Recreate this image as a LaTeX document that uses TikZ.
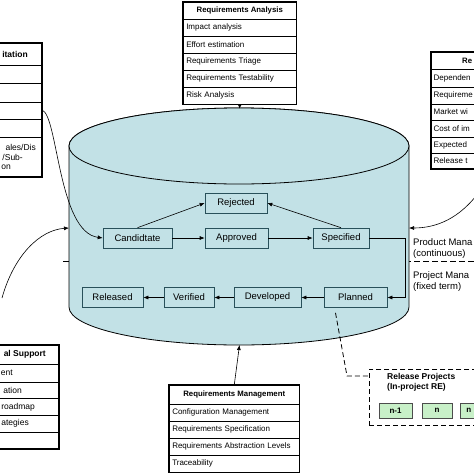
\documentclass[tikz,border=0pt]{standalone}
\usepackage{fontspec}
\setmainfont{Liberation Sans}
\usetikzlibrary{arrows.meta}
\definecolor{cylfill}{RGB}{194,225,230}
\definecolor{nodeedge}{RGB}{40,80,90}
\definecolor{gfill}{RGB}{200,240,200}
\begin{document}
\begin{tikzpicture}[x=1pt,y=-1pt,
  state/.style={draw=nodeedge, fill=cylfill, line width=0.6pt, minimum height=20pt, inner sep=0pt, font=\fontsize{9.5}{11}\selectfont},
  arr/.style={-{Latex[length=5pt,width=4pt]}, line width=0.6pt},
  cell/.style={draw, line width=0.5pt, anchor=north west, minimum height=17pt, inner xsep=3pt, inner ysep=0pt, align=left, font=\fontsize{8}{9}\selectfont},
  head/.style={draw, line width=0.5pt, anchor=north west, minimum height=17pt, inner sep=0pt, font=\bfseries\fontsize{7.8}{9}\selectfont},
  outer/.style={line width=1.6pt},
  thin/.style={line width=0.5pt},
  frag/.style={inner sep=0pt, font=\fontsize{8}{9}\selectfont},
  fragl/.style={inner sep=0pt, font=\fontsize{8.5}{9}\selectfont},
  fragb/.style={inner sep=0pt, font=\bfseries\fontsize{7.8}{9}\selectfont},
  fraglb/.style={inner sep=0pt, font=\bfseries\fontsize{8.5}{9}\selectfont},
  side/.style={anchor=north west, align=left, inner sep=0pt, font=\fontsize{9.5}{10.5}\selectfont},
  gbox/.style={draw=black!70, fill=gfill, line width=0.6pt, minimum height=15pt, inner sep=0pt, font=\bfseries\fontsize{8}{9}\selectfont}
]
\useasboundingbox (0,0) rectangle (474,474);
\fill[white] (0,0) rectangle (474,474);

% divider between product and project management
\draw[thin, dash pattern=on 6pt off 3pt] (63,261) -- (474,261);

% cylinder
\draw[fill=cylfill, line width=0.8pt] (69,146) -- (69,307)
  arc[start angle=180, end angle=0, x radius=170, y radius=38]
  -- (409,146) arc[start angle=0, end angle=-180, x radius=170, y radius=38] -- cycle;
\draw[fill=cylfill, line width=0.8pt] (239,146) ellipse[x radius=170, y radius=38];
\coordinate (cyltop) at (239.5,108.5);
\coordinate (cylbot) at (239.5,345);
\coordinate (cylL) at (69,228);
\coordinate (cylR) at (409,228);

% states
\node[state, minimum width=62pt] (rej) at (236,203) {Rejected};
\node[state, minimum width=69pt] (cand) at (137.5,238) {Candidtate};
\node[state, minimum width=63pt] (app) at (236.5,238) {Approved};
\node[state, minimum width=56pt] (spec) at (341,238) {Specified};
\node[state, minimum width=61pt] (rel) at (112.5,297.5) {Released};
\node[state, minimum width=50pt] (ver) at (189,297.5) {Verified};
\node[state, minimum width=67pt] (dev) at (267.5,297.5) {Developed};
\node[state, minimum width=63pt] (plan) at (355.5,297.5) {Planned};

\draw[arr] (cand.north) -- (rej.west);
\draw[arr] (spec.north) -- (rej.east);
\draw[arr] (cand.east) -- (app.west);
\draw[arr] (app.east) -- (spec.west);
\draw[arr] (spec.east) -- ++(36,0) |- (plan.east);
\draw[arr] (plan.west) -- (dev.east);
\draw[arr] (dev.west) -- (ver.east);
\draw[arr] (ver.west) -- (rel.east);

% side labels
\node[side] (pm) at (413,238.5) {Product Mana\\(continuous)};
\node[side] (pj) at (413,271.5) {Project Mana\\(fixed term)};

% Requirements Analysis (top)
\node[head, minimum width=113pt] (ra0) at (183,2) {Requirements Analysis};
\foreach \t [count=\i] in {Impact analysis, Effort estimation, Requirements Triage, Requirements Testability, Risk Analysis}
  \node[cell, text width=107pt] (ra\i) at (183,{2+17*\i}) {\t};
\draw[outer] (ra0.north west) rectangle (ra5.south east);
\draw[-{Latex[length=4pt,width=4pt]}, line width=0.6pt] (ra5.south) -- (cyltop);

% Requirements Management (bottom)
\node[head, minimum width=130pt, minimum height=19pt] (rm0) at (169,385) {Requirements Management};
\foreach \t [count=\i] in {Configuration Management, Requirements Specification, Requirements Abstraction Levels, Traceability}
  \node[cell, text width=124pt] (rm\i) at (169,{387+17*\i}) {\t};
\draw[outer] (rm0.north west) rectangle (rm4.south east);
\draw[arr] (rm0.north) -- (cylbot);

% left top box (cut off)
\draw[outer] (-30,43) rectangle (42,177);
\foreach \yy in {65,83,102,119,137} \draw[thin] (-30,\yy) -- (42,\yy);
\node[fraglb, anchor=east] (el0) at (28,54) {itation};
\node[fragl, anchor=east] (el1) at (36,147) {ales/Dis};
\node[fragl, anchor=east] (el2) at (23,157) {/Sub-};
\node[fragl, anchor=east] (el3) at (11,167) {on};
\coordinate (eout) at (42,110);
\draw[arr] (eout) .. controls (58,115) and (58,232) .. (cand.west);

% left bottom box (cut off)
\draw[outer] (-30,345) rectangle (59,449);
\foreach \yy in {364,382,398,415,432} \draw[thin] (-30,\yy) -- (59,\yy);
\node[fraglb, anchor=east] (os0) at (46,354.5) {al Support};
\node[fragl, anchor=east] (os1) at (13,373) {ent};
\node[fragl, anchor=east] (os2) at (22,390) {ation};
\node[fragl, anchor=east] (os3) at (35,407) {roadmap};
\node[fragl, anchor=east] (os4) at (29,423) {ategies};
\coordinate (lin) at (2,298);
\draw[arr] (lin) .. controls (14,255) and (40,230) .. (cylL);

% right box (cut off)
\draw[outer] (431,52) rectangle (500,169);
\foreach \yy in {69,87,104,120,137,153} \draw[thin] (431,\yy) -- (500,\yy);
\node[fragb, anchor=west] (rr0) at (462,60.5) {Re};
\foreach \t/\yy [count=\i] in {Dependen/78, Requireme/95.5, Market wi/112, Cost of im/128.5, Expected/145, Release t/161}
  \node[frag, anchor=west] (rr\i) at (433.5,\yy) {\t};
\coordinate (rin) at (476,196);
\draw[arr] (rin) .. controls (455,222) and (432,228) .. (cylR);

% release projects
\node[draw, dash pattern=on 5pt off 3pt, line width=0.8pt, anchor=north west, minimum width=130pt, minimum height=56pt, inner sep=0pt] (rp) at (369,369) {};
\node[anchor=north west, align=left, inner sep=0pt, font=\bfseries\fontsize{8.5}{10}\selectfont] (rpt) at (387,373) {Release Projects\\(In-project RE)};
\node[gbox, minimum width=33pt] (n1) at (395.5,410.5) {n-1};
\node[gbox, minimum width=30pt] (n2) at (437,410.5) {n};
\node[gbox, anchor=west, text width=21pt, inner xsep=6pt, align=left] (n3) at (460,410.5) {n};
\draw[dash pattern=on 5pt off 3pt, line width=0.8pt] ([xshift=-20pt,yshift=-5pt]plan.south) -- (347,376) -- (rp.west |- 0,376);
\end{tikzpicture}
\end{document}
